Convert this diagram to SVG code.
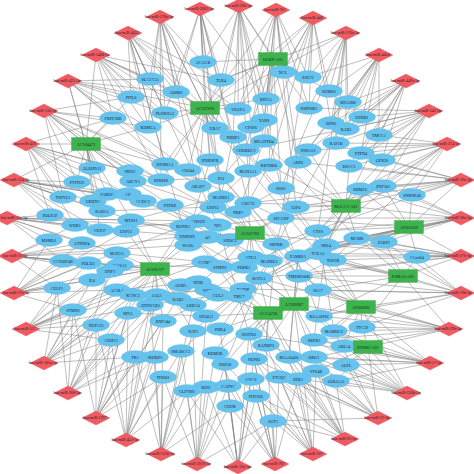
<svg xmlns="http://www.w3.org/2000/svg" width="474" height="474" viewBox="0 0 474 474">
<style>
.e{fill:none;stroke:#7e7e7e;stroke-width:0.6;stroke-opacity:0.85}
.m use{fill:#66c3ee;stroke:#59b6e2;stroke-width:0.3}
.g use{fill:#3cb44b;stroke:#2f9a3c;stroke-width:0.3}
.r use{fill:#f05b61;stroke:#e04a52;stroke-width:0.3}
text{font-family:"Liberation Serif","DejaVu Serif",serif;font-size:4.2px;fill:#1c2233;text-anchor:middle}
.r text{font-size:4.1px}
</style>
<defs>
<ellipse id="el" cx="0" cy="0" rx="13.5" ry="6.5"/>
<rect id="rc" x="-14.5" y="-6.5" width="29" height="13"/>
<polygon id="dm" points="-14,0 0,-7 14,0 0,7"/>
</defs>
<rect width="474" height="474" fill="#fff"/>
<g id="connectors">
<path class="e" d="M128 33L150 79M128 33L131 97M128 33L176 92M128 33L148 127M128 33L165 113M128 33L238 109M128 33L205 108M128 33L221 80M128 33L165 164M128 33L215 128M128 33L183 226M128 33L218 225"/>
<path class="e" d="M160 17L150 79M160 17L176 92M160 17L203 62M160 17L165 113M160 17L148 127M160 17L215 128M160 17L205 108M160 17L233 137M160 17L161 180M160 17L213 207M160 17L198 186"/>
<path class="e" d="M200 9L203 62M200 9L221 80M200 9L176 92M200 9L205 108M200 9L215 128M200 9L266 99M200 9L165 113M200 9L210 160M200 9L233 137M200 9L221 197M200 9L248 203"/>
<path class="e" d="M239 6L203 62M239 6L221 80M239 6L238 109M239 6L266 99M239 6L273 59M239 6L283 72M239 6L215 128M239 6L251 127M239 6L233 137M239 6L264 141M239 6L281 188M239 6L248 171"/>
<path class="e" d="M276 10L273 59M276 10L283 72M276 10L308 77M276 10L266 99M276 10L238 109M276 10L264 120M276 10L309 108M276 10L246 150M276 10L205 108M276 10L298 162M276 10L296 207"/>
<path class="e" d="M313 18L273 59M313 18L283 72M313 18L308 77M313 18L309 108M313 18L329 91M313 18L331 123M313 18L266 99M313 18L205 108M313 18L264 141M313 18L269 165M313 18L281 218"/>
<path class="e" d="M346 33L308 77M346 33L329 91M346 33L348 102M346 33L309 108M346 33L331 123M346 33L346 129M346 33L336 143M346 33L221 80M346 33L205 108M346 33L281 188M346 33L318 231"/>
<path class="e" d="M379 55L329 91M379 55L348 102M379 55L362 117M379 55L379 135M379 55L346 129M379 55L308 150M379 55L331 123M379 55L308 77M379 55L361 153M379 55L296 207M379 55L298 162"/>
<path class="e" d="M406 81L348 102M406 81L362 117M406 81L379 135M406 81L361 153M406 81L382 160M406 81L346 129M406 81L336 143M406 81L308 150M406 81L331 123M406 81L326 245M406 81L349 166"/>
<path class="e" d="M429 111L362 117M429 111L379 135M429 111L361 153M429 111L382 160M429 111L346 129M429 111L336 143M429 111L349 166M429 111L383 186M429 111L309 108M429 111L246 150M429 111L318 231M429 111L318 253"/>
<path class="e" d="M447 144L379 135M447 144L361 153M447 144L382 160M447 144L349 166M447 144L383 186M447 144L360 189M447 144L412 195M447 144L336 143M447 144L308 150M447 144L346 206M447 144L333 260M447 144L298 256"/>
<path class="e" d="M461 180L383 186M461 180L412 195M461 180L360 189M461 180L382 160M461 180L349 166M461 180L346 206M461 180L296 207M461 180L409 227M461 180L361 153M461 180L298 162M461 180L276 244M461 180L248 203"/>
<path class="e" d="M461 218L412 195M461 218L383 186M461 218L409 227M461 218L357 238M461 218L384 242M461 218L346 206M461 218L318 231M461 218L281 218M461 218L360 189M461 218L326 245M461 218L318 253M461 218L298 256M461 218L269 261"/>
<path class="e" d="M461 256L409 227M461 256L384 242M461 256L417 257M461 256L357 238M461 256L326 245M461 256L333 260M461 256L318 253M461 256L403 276M461 256L250 233M461 256L298 256M461 256L299 276M461 256L259 278"/>
<path class="e" d="M461 293L417 257M461 293L403 276M461 293L361 307M461 293L333 260M461 293L318 290M461 293L299 276M461 293L384 242M461 293L357 238M461 293L362 327M461 293L319 316M461 293L243 289"/>
<path class="e" d="M449 329L362 327M449 329L361 307M449 329L403 276M449 329L368 347M449 329L334 331M449 329L344 346M449 329L318 290M449 329L319 316M449 329L294 304M449 329L314 340M449 329L259 278"/>
<path class="e" d="M430 363L368 347M430 363L344 346M430 363L346 365M430 363L362 327M430 363L334 331M430 363L336 381M430 363L361 307M430 363L314 340M430 363L314 357M430 363L289 357M430 363L249 334"/>
<path class="e" d="M407 393L346 365M407 393L336 381M407 393L368 347M407 393L344 346M407 393L316 371M407 393L314 357M407 393L298 379M407 393L361 307M407 393L319 316M407 393L314 340M407 393L266 345"/>
<path class="e" d="M378 418L336 381M378 418L346 365M378 418L316 371M378 418L298 379M378 418L314 357M378 418L279 377M378 418L368 347M378 418L289 357M378 418L273 421M378 418L254 359M378 418L334 331"/>
<path class="e" d="M345 439L336 381M345 439L316 371M345 439L298 379M345 439L279 377M345 439L273 421M345 439L289 357M345 439L256 396M345 439L314 357M345 439L268 313M345 439L254 359M345 439L249 334M345 439L239 296"/>
<path class="e" d="M313 454L273 421M313 454L279 377M313 454L298 379M313 454L256 396M313 454L251 379M313 454L254 359M313 454L316 371M313 454L289 357M313 454L294 304M313 454L266 345M313 454L225 364"/>
<path class="e" d="M275 464L273 421M275 464L256 396M275 464L251 379M275 464L279 377M275 464L230 406M275 464L254 359M275 464L298 379M275 464L228 386M275 464L266 345M275 464L215 353M275 464L249 334"/>
<path class="e" d="M238 467L230 406M238 467L273 421M238 467L256 396M238 467L228 386M238 467L206 387M238 467L251 379M238 467L187 391M238 467L225 364M238 467L249 334M238 467L220 329M238 467L254 359"/>
<path class="e" d="M197 464L230 406M197 464L187 391M197 464L206 387M197 464L228 386M197 464L163 377M197 464L181 351M197 464L273 421M197 464L225 364M197 464L215 353M197 464L193 331M197 464L206 316"/>
<path class="e" d="M161 454L163 377M161 454L187 391M161 454L135 357M161 454L155 357M161 454L181 351M161 454L206 387M161 454L230 406M161 454L163 321M161 454L193 331M161 454L193 305M161 454L150 305"/>
<path class="e" d="M126 440L163 377M126 440L135 357M126 440L155 357M126 440L111 340M126 440L181 351M126 440L163 321M126 440L187 391M126 440L96 325M126 440L128 313M126 440L150 305M126 440L157 295"/>
<path class="e" d="M96 418L111 340M96 418L135 357M96 418L163 377M96 418L96 325M96 418L155 357M96 418L128 313M96 418L73 310M96 418L133 295M96 418L163 321M96 418L157 295M96 418L178 299"/>
<path class="e" d="M68 393L111 340M68 393L96 325M68 393L135 357M68 393L73 310M68 393L128 313M68 393L57 288M68 393L150 305M68 393L155 357M68 393L133 295M68 393L181 285M68 393L110 271"/>
<path class="e" d="M44 363L96 325M44 363L73 310M44 363L111 340M44 363L57 288M44 363L117 290M44 363L128 313M44 363L133 295M44 363L92 280M44 363L135 357M44 363L155 269M44 363L120 265"/>
<path class="e" d="M26 329L73 310M26 329L57 288M26 329L96 325M26 329L111 340M26 329L92 280M26 329L117 290M26 329L110 271M26 329L88 263M26 329L133 295M26 329L155 269M26 329L150 305M26 329L205 262"/>
<path class="e" d="M14 293L57 288M14 293L63 261M14 293L88 263M14 293L92 280M14 293L73 310M14 293L117 290M14 293L110 271M14 293L49 240M14 293L155 269M14 293L82 243M14 293L183 226M14 293L126 231"/>
<path class="e" d="M12 256L63 261M12 256L49 240M12 256L88 263M12 256L82 243M12 256L57 288M12 256L110 271M12 256L120 265M12 256L117 253M12 256L75 225M12 256L155 269M12 256L188 236M12 256L188 245"/>
<path class="e" d="M7 218L49 240M7 218L50 215M7 218L75 225M7 218L82 243M7 218L63 261M7 218L100 230M7 218L131 220M7 218L126 231M7 218L117 253M7 218L183 226M7 218L198 221"/>
<path class="e" d="M14 180L50 215M14 180L63 197M14 180L75 225M14 180L77 182M14 180L93 201M14 180L107 194M14 180L102 211M14 180L100 230M14 180L128 194M14 180L143 201M14 180L86 144M14 180L170 205M14 180L131 220"/>
<path class="e" d="M26 144L86 144M26 144L77 182M26 144L63 197M26 144L92 168M26 144L50 215M26 144L93 201M26 144L107 194M26 144L113 118M26 144L130 171M26 144L75 225M26 144L161 180M26 144L143 201"/>
<path class="e" d="M44 111L86 144M44 111L113 118M44 111L92 168M44 111L77 182M44 111L131 97M44 111L148 127M44 111L63 197M44 111L130 171M44 111L133 181M44 111L165 164M44 111L161 180M44 111L188 170"/>
<path class="e" d="M68 81L86 144M68 81L131 97M68 81L113 118M68 81L150 79M68 81L148 127M68 81L92 168M68 81L165 113M68 81L165 164M68 81L205 108M68 81L188 170M68 81L176 92"/>
<path class="e" d="M96 55L131 97M96 55L150 79M96 55L113 118M96 55L86 144M96 55L176 92M96 55L148 127M96 55L165 113M96 55L221 80M96 55L205 108M96 55L161 180M96 55L210 160M96 55L215 128"/>
<path class="e" d="M273 59L283 72M273 59L308 77M273 59L266 99M273 59L238 109M273 59L221 80M273 59L203 62M273 59L264 120M273 59L309 108M273 59L329 91M273 59L251 127M273 59L264 141M273 59L298 162M273 59L269 165M273 59L281 188"/>
<path class="e" d="M205 108L176 92M205 108L165 113M205 108L238 109M205 108L215 128M205 108L233 137M205 108L221 80M205 108L148 127M205 108L210 160M205 108L165 164M205 108L188 170M205 108L198 186M205 108L221 178M205 108L266 99M205 108L221 197M205 108L246 150M205 108L161 180"/>
<path class="e" d="M86 144L113 118M86 144L92 168M86 144L77 182M86 144L130 171M86 144L133 181M86 144L107 194M86 144L148 127M86 144L131 97M86 144L165 164M86 144L161 180M86 144L131 220M86 144L100 230M86 144L102 211M86 144L93 201"/>
<path class="e" d="M155 269L120 265M155 269L117 290M155 269L110 271M155 269L92 280M155 269L133 295M155 269L157 295M155 269L150 305M155 269L178 299M155 269L181 285M155 269L126 231M155 269L131 220M155 269L188 236M155 269L188 245M155 269L205 262M155 269L183 226M155 269L117 253M155 269L88 263M155 269L128 313M155 269L163 321M155 269L193 331"/>
<path class="e" d="M250 233L230 240M250 233L218 225M250 233L208 237M250 233L238 212M250 233L248 203M250 233L281 218M250 233L276 244M250 233L251 257M250 233L244 267M250 233L269 261M250 233L188 245M250 233L205 262M250 233L220 267M250 233L213 207M250 233L221 197M250 233L296 207M250 233L259 278M250 233L188 236"/>
<path class="e" d="M346 206L296 207M346 206L281 218M346 206L318 231M346 206L281 188M346 206L349 166M346 206L360 189M346 206L383 186M346 206L357 238M346 206L326 245M346 206L298 162M346 206L269 165M346 206L318 253M346 206L248 203M346 206L308 150"/>
<path class="e" d="M409 227L357 238M409 227L384 242M409 227L417 257M409 227L412 195M409 227L383 186M409 227L360 189M409 227L326 245M409 227L318 231M409 227L333 260M409 227L318 253M409 227L298 256M409 227L281 218"/>
<path class="e" d="M403 276L417 257M403 276L384 242M403 276L333 260M403 276L318 290M403 276L299 276M403 276L357 238M403 276L318 253M403 276L298 256M403 276L319 316M403 276L362 327"/>
<path class="e" d="M361 307L362 327M361 307L318 290M361 307L319 316M361 307L334 331M361 307L314 340M361 307L299 276M361 307L333 260M361 307L344 346M361 307L298 256M361 307L318 253"/>
<path class="e" d="M294 304L319 316M294 304L299 276M294 304L318 290M294 304L298 256M294 304L259 278M294 304L243 289M294 304L249 334M294 304L266 345M294 304L289 357M294 304L314 340M294 304L334 331M294 304L314 357M294 304L244 267M294 304L269 261"/>
<path class="e" d="M268 313L249 334M268 313L266 345M268 313L254 359M268 313L289 357M268 313L239 296M268 313L243 289M268 313L259 278M268 313L218 295M268 313L206 316M268 313L220 329M268 313L215 353M268 313L225 364"/>
<path class="e" d="M368 347L344 346M368 347L346 365M368 347L334 331M368 347L362 327M368 347L314 340M368 347L314 357M368 347L336 381M368 347L316 371"/>
<path class="e" d="M183 226L221 197M131 220L188 236M170 205L218 225M143 201L198 221M126 231L208 237M161 180L221 178M165 164L198 186M133 181L213 207M188 245L230 240M205 262L251 257M178 299L220 267M193 305L244 267M157 295L208 290M150 305L218 295M181 285L243 289M198 282L239 296M206 316L259 278M220 329L269 261M248 171L221 197M281 188L238 212M269 165L248 203M298 162L276 244M296 207L269 261M318 231L244 267M326 245L259 278M318 253L243 289M298 256L239 296M333 260L299 276M281 218L218 225M246 150L221 178M264 141L238 212M233 137L221 197M210 160L188 236M251 127L248 203"/>
<path class="e" d="M131 220L221 197M100 230L198 221M102 211L213 207M117 253L205 262M120 265L220 267M117 290L198 282M133 295L208 290M128 313L206 316M163 321L218 295M193 331L243 289M181 351L239 296M215 353L259 278M225 364L269 261M249 334L218 225M266 345L276 244M289 357L298 256M314 340L326 245M334 331L318 231M319 316L281 218M299 276L238 212M259 278L188 236M243 289L183 226M239 296L170 205M269 261L143 201M276 244L161 180M251 257L133 181M318 290L248 203M298 256L221 178M326 245L246 150M357 238L264 141M333 260L233 137M318 253L215 128M299 276L210 160M281 218L165 164M276 244L131 220"/>
</g>
<g id="n-ACACB" class="m"><use href="#el" x="203" y="62"/><text x="203" y="63.5">ACACB</text></g>
<g id="n-TLR4" class="m"><use href="#el" x="221" y="80"/><text x="221" y="81.5">TLR4</text></g>
<g id="n-SLC17A5" class="m"><use href="#el" x="150" y="79"/><text x="150" y="80.5">SLC17A5</text></g>
<g id="n-ADRB1" class="m"><use href="#el" x="176" y="92"/><text x="176" y="93.5">ADRB1</text></g>
<g id="n-PPIL6" class="m"><use href="#el" x="131" y="97"/><text x="131" y="98.5">PPIL6</text></g>
<g id="n-PLEKHA1" class="m"><use href="#el" x="165" y="113"/><text x="165" y="114.5">PLEKHA1</text></g>
<g id="n-VEGFA" class="m"><use href="#el" x="238" y="109"/><text x="238" y="110.5">VEGFA</text></g>
<g id="n-PRPF38B" class="m"><use href="#el" x="113" y="118"/><text x="113" y="119.5">PRPF38B</text></g>
<g id="n-KDM5A" class="m"><use href="#el" x="148" y="127"/><text x="148" y="128.5">KDM5A</text></g>
<g id="n-UBA7" class="m"><use href="#el" x="215" y="128"/><text x="215" y="129.5">UBA7</text></g>
<g id="n-NRBP1" class="m"><use href="#el" x="233" y="137"/><text x="233" y="138.5">NRBP1</text></g>
<g id="n-NCL" class="m"><use href="#el" x="283" y="72"/><text x="283" y="73.5">NCL</text></g>
<g id="n-SSU72" class="m"><use href="#el" x="308" y="77"/><text x="308" y="78.5">SSU72</text></g>
<g id="n-KIF2A" class="m"><use href="#el" x="266" y="99"/><text x="266" y="100.5">KIF2A</text></g>
<g id="n-SUMO1" class="m"><use href="#el" x="329" y="91"/><text x="329" y="92.5">SUMO1</text></g>
<g id="n-DNAJB6" class="m"><use href="#el" x="348" y="102"/><text x="348" y="103.5">DNAJB6</text></g>
<g id="n-HSP90B1" class="m"><use href="#el" x="309" y="108"/><text x="309" y="109.5">HSP90B1</text></g>
<g id="n-YARS" class="m"><use href="#el" x="264" y="120"/><text x="264" y="121.5">YARS</text></g>
<g id="n-CPSF6" class="m"><use href="#el" x="251" y="127"/><text x="251" y="128.5">CPSF6</text></g>
<g id="n-DPP6" class="m"><use href="#el" x="331" y="123"/><text x="331" y="124.5">DPP6</text></g>
<g id="n-RAB2" class="m"><use href="#el" x="346" y="129"/><text x="346" y="130.5">RAB2</text></g>
<g id="n-MSANTD4" class="m"><use href="#el" x="264" y="141"/><text x="264" y="142.5">MSANTD4</text></g>
<g id="n-RAP1B" class="m"><use href="#el" x="336" y="143"/><text x="336" y="144.5">RAP1B</text></g>
<g id="n-CHORDC1" class="m"><use href="#el" x="246" y="150"/><text x="246" y="151.5">CHORDC1</text></g>
<g id="n-HSPA13" class="m"><use href="#el" x="308" y="150"/><text x="308" y="151.5">HSPA13</text></g>
<g id="n-EPHB1" class="m"><use href="#el" x="362" y="117"/><text x="362" y="118.5">EPHB1</text></g>
<g id="n-TMCC1" class="m"><use href="#el" x="379" y="135"/><text x="379" y="136.5">TMCC1</text></g>
<g id="n-PTPN4" class="m"><use href="#el" x="361" y="153"/><text x="361" y="154.5">PTPN4</text></g>
<g id="n-GPR20" class="m"><use href="#el" x="382" y="160"/><text x="382" y="161.5">GPR20</text></g>
<g id="n-ALDH9A1" class="m"><use href="#el" x="92" y="168"/><text x="92" y="169.5">ALDH9A1</text></g>
<g id="n-PTPN23" class="m"><use href="#el" x="77" y="182"/><text x="77" y="183.5">PTPN23</text></g>
<g id="n-TSPYL2" class="m"><use href="#el" x="63" y="197"/><text x="63" y="198.5">TSPYL2</text></g>
<g id="n-FAM3C" class="m"><use href="#el" x="107" y="194"/><text x="107" y="195.5">FAM3C</text></g>
<g id="n-UBXN1" class="m"><use href="#el" x="93" y="201"/><text x="93" y="202.5">UBXN1</text></g>
<g id="n-RAB1A" class="m"><use href="#el" x="102" y="211"/><text x="102" y="212.5">RAB1A</text></g>
<g id="n-POLR3F" class="m"><use href="#el" x="50" y="215"/><text x="50" y="216.5">POLR3F</text></g>
<g id="n-WDR1" class="m"><use href="#el" x="75" y="225"/><text x="75" y="226.5">WDR1</text></g>
<g id="n-CEP57" class="m"><use href="#el" x="100" y="230"/><text x="100" y="231.5">CEP57</text></g>
<g id="n-MSMO1" class="m"><use href="#el" x="49" y="240"/><text x="49" y="241.5">MSMO1</text></g>
<g id="n-GTPBP4" class="m"><use href="#el" x="82" y="243"/><text x="82" y="244.5">GTPBP4</text></g>
<g id="n-MAT2A" class="m"><use href="#el" x="117" y="253"/><text x="117" y="254.5">MAT2A</text></g>
<g id="n-C17orf49" class="m"><use href="#el" x="63" y="261"/><text x="63" y="262.5">C17ORF49</text></g>
<g id="n-POLD3" class="m"><use href="#el" x="88" y="263"/><text x="88" y="264.5">POLD3</text></g>
<g id="n-RASA1" class="m"><use href="#el" x="120" y="265"/><text x="120" y="266.5">RASA1</text></g>
<g id="n-IL6" class="m"><use href="#el" x="92" y="280"/><text x="92" y="281.5">IL6</text></g>
<g id="n-HNF1" class="m"><use href="#el" x="110" y="271"/><text x="110" y="272.5">HNF1</text></g>
<g id="n-CELF1" class="m"><use href="#el" x="57" y="288"/><text x="57" y="289.5">CELF1</text></g>
<g id="n-ACSL1" class="m"><use href="#el" x="117" y="290"/><text x="117" y="291.5">ACSL1</text></g>
<g id="n-STMN2" class="m"><use href="#el" x="73" y="310"/><text x="73" y="311.5">STMN2</text></g>
<g id="n-HNRNPR" class="m"><use href="#el" x="210" y="160"/><text x="210" y="161.5">HNRNPR</text></g>
<g id="n-DYRK1A" class="m"><use href="#el" x="165" y="164"/><text x="165" y="165.5">DYRK1A</text></g>
<g id="n-CD244" class="m"><use href="#el" x="188" y="170"/><text x="188" y="171.5">CD244</text></g>
<g id="n-PKN2" class="m"><use href="#el" x="130" y="171"/><text x="130" y="172.5">PKN2</text></g>
<g id="n-ADCY1" class="m"><use href="#el" x="133" y="181"/><text x="133" y="182.5">ADCY1</text></g>
<g id="n-RTBDN" class="m"><use href="#el" x="161" y="180"/><text x="161" y="181.5">RTBDN</text></g>
<g id="n-PLI" class="m"><use href="#el" x="221" y="178"/><text x="221" y="179.5">PLI</text></g>
<g id="n-AKAP7" class="m"><use href="#el" x="198" y="186"/><text x="198" y="187.5">AKAP7</text></g>
<g id="n-CP" class="m"><use href="#el" x="128" y="194"/><text x="128" y="195.5">CP</text></g>
<g id="n-CCDC3" class="m"><use href="#el" x="143" y="201"/><text x="143" y="202.5">CCDC3</text></g>
<g id="n-MAPRE1" class="m"><use href="#el" x="221" y="197"/><text x="221" y="198.5">MAPRE1</text></g>
<g id="n-PTPRE" class="m"><use href="#el" x="170" y="205"/><text x="170" y="206.5">PTPRE</text></g>
<g id="n-USP15" class="m"><use href="#el" x="213" y="207"/><text x="213" y="208.5">USP15</text></g>
<g id="n-MTSS1" class="m"><use href="#el" x="131" y="220"/><text x="131" y="221.5">MTSS1</text></g>
<g id="n-USP13" class="m"><use href="#el" x="126" y="231"/><text x="126" y="232.5">USP13</text></g>
<g id="n-CDSUP" class="m"><use href="#el" x="198" y="221"/><text x="198" y="222.5">CDSUP</text></g>
<g id="n-RUNX1" class="m"><use href="#el" x="183" y="226"/><text x="183" y="227.5">RUNX1</text></g>
<g id="n-NF1" class="m"><use href="#el" x="218" y="225"/><text x="218" y="226.5">NF1</text></g>
<g id="n-HNRNPD" class="m"><use href="#el" x="188" y="236"/><text x="188" y="237.5">HNRNPD</text></g>
<g id="n-4C" class="m"><use href="#el" x="208" y="237"/><text x="208" y="238.5">4C</text></g>
<g id="n-WASL" class="m"><use href="#el" x="188" y="245"/><text x="188" y="246.5">WASL</text></g>
<g id="n-SHOC2" class="m"><use href="#el" x="230" y="240"/><text x="230" y="241.5">SHOC2</text></g>
<g id="n-CCNE2" class="m"><use href="#el" x="205" y="262"/><text x="205" y="263.5">CCNE2</text></g>
<g id="n-STMN1" class="m"><use href="#el" x="220" y="267"/><text x="220" y="268.5">STMN1</text></g>
<g id="n-AEBP1" class="m"><use href="#el" x="181" y="285"/><text x="181" y="286.5">AEBP1</text></g>
<g id="n-NFIB" class="m"><use href="#el" x="198" y="282"/><text x="198" y="283.5">NFIB</text></g>
<g id="n-VEZT" class="m"><use href="#el" x="208" y="290"/><text x="208" y="291.5">VEZT</text></g>
<g id="n-CUL2" class="m"><use href="#el" x="218" y="295"/><text x="218" y="296.5">CUL2</text></g>
<g id="n-KCNC2" class="m"><use href="#el" x="133" y="295"/><text x="133" y="296.5">KCNC2</text></g>
<g id="n-JAG1" class="m"><use href="#el" x="157" y="295"/><text x="157" y="296.5">JAG1</text></g>
<g id="n-DAB2" class="m"><use href="#el" x="178" y="299"/><text x="178" y="300.5">DAB2</text></g>
<g id="n-LRRC4" class="m"><use href="#el" x="193" y="305"/><text x="193" y="306.5">LRRC4</text></g>
<g id="n-ATP6V1B2" class="m"><use href="#el" x="150" y="305"/><text x="150" y="306.5">ATP6V1B2</text></g>
<g id="n-RPIA" class="m"><use href="#el" x="128" y="313"/><text x="128" y="314.5">RPIA</text></g>
<g id="n-EIF4G3" class="m"><use href="#el" x="206" y="316"/><text x="206" y="317.5">EIF4G3</text></g>
<g id="n-KBTBD6" class="m"><use href="#el" x="269" y="165"/><text x="269" y="166.5">KBTBD6</text></g>
<g id="n-ARF6" class="m"><use href="#el" x="298" y="162"/><text x="298" y="163.5">ARF6</text></g>
<g id="n-MAN1A1" class="m"><use href="#el" x="248" y="171"/><text x="248" y="172.5">MAN1A1</text></g>
<g id="n-DSCC1" class="m"><use href="#el" x="349" y="166"/><text x="349" y="167.5">DSCC1</text></g>
<g id="n-SOS1" class="m"><use href="#el" x="281" y="188"/><text x="281" y="189.5">SOS1</text></g>
<g id="n-CDC73" class="m"><use href="#el" x="248" y="203"/><text x="248" y="204.5">CDC73</text></g>
<g id="n-NRP1" class="m"><use href="#el" x="238" y="212"/><text x="238" y="213.5">NRP1</text></g>
<g id="n-E2F6" class="m"><use href="#el" x="296" y="207"/><text x="296" y="208.5">E2F6</text></g>
<g id="n-SEC23IP" class="m"><use href="#el" x="281" y="218"/><text x="281" y="219.5">SEC23IP</text></g>
<g id="n-CTSS" class="m"><use href="#el" x="318" y="231"/><text x="318" y="232.5">CTSS</text></g>
<g id="n-MCM8" class="m"><use href="#el" x="357" y="238"/><text x="357" y="239.5">MCM8</text></g>
<g id="n-SKE4" class="m"><use href="#el" x="326" y="245"/><text x="326" y="246.5">SKE4</text></g>
<g id="n-SRPRB" class="m"><use href="#el" x="276" y="244"/><text x="276" y="245.5">SRPRB</text></g>
<g id="n-TCEA1" class="m"><use href="#el" x="318" y="253"/><text x="318" y="254.5">TCEA1</text></g>
<g id="n-FAM89A" class="m"><use href="#el" x="298" y="256"/><text x="298" y="257.5">FAM89A</text></g>
<g id="n-TOP2B" class="m"><use href="#el" x="333" y="260"/><text x="333" y="261.5">TOP2B</text></g>
<g id="n-CTU1" class="m"><use href="#el" x="251" y="257"/><text x="251" y="258.5">CTU1</text></g>
<g id="n-MAPRE2" class="m"><use href="#el" x="269" y="261"/><text x="269" y="262.5">MAPRE2</text></g>
<g id="n-PDPK1" class="m"><use href="#el" x="244" y="267"/><text x="244" y="268.5">PDPK1</text></g>
<g id="n-DCP1A" class="m"><use href="#el" x="259" y="278"/><text x="259" y="279.5">DCP1A</text></g>
<g id="n-TMEM106B" class="m"><use href="#el" x="299" y="276"/><text x="299" y="277.5">TMEM106B</text></g>
<g id="n-TAPBP" class="m"><use href="#el" x="243" y="289"/><text x="243" y="290.5">TAPBP</text></g>
<g id="n-SLC7" class="m"><use href="#el" x="318" y="290"/><text x="318" y="291.5">SLC7</text></g>
<g id="n-TMC7" class="m"><use href="#el" x="239" y="296"/><text x="239" y="297.5">TMC7</text></g>
<g id="n-KIAA0930" class="m"><use href="#el" x="319" y="316"/><text x="319" y="317.5">KIAA0930</text></g>
<g id="n-ZNF561" class="m"><use href="#el" x="383" y="186"/><text x="383" y="187.5">ZNF561</text></g>
<g id="n-RBM20" class="m"><use href="#el" x="360" y="189"/><text x="360" y="190.5">RBM20</text></g>
<g id="n-SNRNP40" class="m"><use href="#el" x="412" y="195"/><text x="412" y="196.5">SNRNP40</text></g>
<g id="n-PARP1" class="m"><use href="#el" x="384" y="242"/><text x="384" y="243.5">PARP1</text></g>
<g id="n-C1orf64" class="m"><use href="#el" x="417" y="257"/><text x="417" y="258.5">C1orf64</text></g>
<g id="n-TTC39" class="m"><use href="#el" x="362" y="327"/><text x="362" y="328.5">TTC39</text></g>
<g id="n-NUP153" class="m"><use href="#el" x="96" y="325"/><text x="96" y="326.5">NUP153</text></g>
<g id="n-CDH13" class="m"><use href="#el" x="111" y="340"/><text x="111" y="341.5">CDH13</text></g>
<g id="n-RNF144" class="m"><use href="#el" x="163" y="321"/><text x="163" y="322.5">RNF144</text></g>
<g id="n-NAT1" class="m"><use href="#el" x="193" y="331"/><text x="193" y="332.5">NAT1</text></g>
<g id="n-PDK4" class="m"><use href="#el" x="220" y="329"/><text x="220" y="330.5">PDK4</text></g>
<g id="n-SMARCC1" class="m"><use href="#el" x="181" y="351"/><text x="181" y="352.5">SMARCC1</text></g>
<g id="n-TK1" class="m"><use href="#el" x="135" y="357"/><text x="135" y="358.5">TK1</text></g>
<g id="n-SH3BP5" class="m"><use href="#el" x="155" y="357"/><text x="155" y="358.5">SH3BP5</text></g>
<g id="n-KDM3B" class="m"><use href="#el" x="215" y="353"/><text x="215" y="354.5">KDM3B</text></g>
<g id="n-HSPA8" class="m"><use href="#el" x="225" y="364"/><text x="225" y="365.5">HSPA8</text></g>
<g id="n-THSD1" class="m"><use href="#el" x="163" y="377"/><text x="163" y="378.5">THSD1</text></g>
<g id="n-CLPTM1" class="m"><use href="#el" x="187" y="391"/><text x="187" y="392.5">CLPTM1</text></g>
<g id="n-IDH1" class="m"><use href="#el" x="206" y="387"/><text x="206" y="388.5">IDH1</text></g>
<g id="n-CAPN7" class="m"><use href="#el" x="228" y="386"/><text x="228" y="387.5">CAPN7</text></g>
<g id="n-CHUK" class="m"><use href="#el" x="230" y="406"/><text x="230" y="407.5">CHUK</text></g>
<g id="n-SESTD1" class="m"><use href="#el" x="249" y="334"/><text x="249" y="335.5">SESTD1</text></g>
<g id="n-MAMDC2" class="m"><use href="#el" x="334" y="331"/><text x="334" y="332.5">MAMDC2</text></g>
<g id="n-SRPK2" class="m"><use href="#el" x="314" y="340"/><text x="314" y="341.5">SRPK2</text></g>
<g id="n-RANBP3" class="m"><use href="#el" x="266" y="345"/><text x="266" y="346.5">RANBP3</text></g>
<g id="n-ARL14" class="m"><use href="#el" x="344" y="346"/><text x="344" y="347.5">ARL14</text></g>
<g id="n-NONO" class="m"><use href="#el" x="254" y="359"/><text x="254" y="360.5">NONO</text></g>
<g id="n-KIAA0430" class="m"><use href="#el" x="289" y="357"/><text x="289" y="358.5">KIAA0430</text></g>
<g id="n-DRG1" class="m"><use href="#el" x="314" y="357"/><text x="314" y="358.5">DRG1</text></g>
<g id="n-ALPL" class="m"><use href="#el" x="346" y="365"/><text x="346" y="366.5">ALPL</text></g>
<g id="n-VPS4B" class="m"><use href="#el" x="316" y="371"/><text x="316" y="372.5">VPS4B</text></g>
<g id="n-CYCS" class="m"><use href="#el" x="251" y="379"/><text x="251" y="380.5">CYCS</text></g>
<g id="n-PTCD3" class="m"><use href="#el" x="279" y="377"/><text x="279" y="378.5">PTCD3</text></g>
<g id="n-ZEB1" class="m"><use href="#el" x="298" y="379"/><text x="298" y="380.5">ZEB1</text></g>
<g id="n-GOLGA5" class="m"><use href="#el" x="336" y="381"/><text x="336" y="382.5">GOLGA5</text></g>
<g id="n-PHF20L" class="m"><use href="#el" x="256" y="396"/><text x="256" y="397.5">PHF20L</text></g>
<g id="n-SGT1" class="m"><use href="#el" x="273" y="421"/><text x="273" y="422.5">SGT1</text></g>
<g id="n-DGKP-AS1" class="g"><use href="#rc" x="273" y="59"/><text x="273" y="60.5">DGKP-AS1</text></g>
<g id="n-AC107070" class="g"><use href="#rc" x="205" y="108"/><text x="205" y="109.5">AC107070</text></g>
<g id="n-AC104473" class="g"><use href="#rc" x="86" y="144"/><text x="86" y="145.5">AC104473</text></g>
<g id="n-AC092127" class="g"><use href="#rc" x="155" y="269"/><text x="155" y="270.5">AC092127</text></g>
<g id="n-AC022762" class="g"><use href="#rc" x="250" y="233"/><text x="250" y="234.5">AC022762</text></g>
<g id="n-MACC1-AS1" class="g"><use href="#rc" x="346" y="206"/><text x="346" y="207.5">MACC1-AS1</text></g>
<g id="n-AP001029" class="g"><use href="#rc" x="409" y="227"/><text x="409" y="228.5">AP001029</text></g>
<g id="n-PSMA3-AS1" class="g"><use href="#rc" x="403" y="276"/><text x="403" y="277.5">PSMA3-AS1</text></g>
<g id="n-AP000695" class="g"><use href="#rc" x="361" y="307"/><text x="361" y="308.5">AP000695</text></g>
<g id="n-AC090967" class="g"><use href="#rc" x="294" y="304"/><text x="294" y="305.5">AC090967</text></g>
<g id="n-AC114730" class="g"><use href="#rc" x="268" y="313"/><text x="268" y="314.5">AC114730</text></g>
<g id="n-ZFPM2-AS1" class="g"><use href="#rc" x="368" y="347"/><text x="368" y="348.5">ZFPM2-AS1</text></g>
<g id="n-miR-4433" class="r"><use href="#dm" x="128" y="33"/><text x="127" y="34.4">hsa-miR-4433</text></g>
<g id="n-miR-378a" class="r"><use href="#dm" x="160" y="17"/><text x="159" y="18.4">hsa-miR-378a-5p</text></g>
<g id="n-miR-2682" class="r"><use href="#dm" x="200" y="9"/><text x="199" y="10.4">hsa-miR-2682-5p</text></g>
<g id="n-miR-296" class="r"><use href="#dm" x="239" y="6"/><text x="238" y="7.4">hsa-miR-296-5p</text></g>
<g id="n-miR-761" class="r"><use href="#dm" x="276" y="10"/><text x="275" y="11.4">hsa-miR-761</text></g>
<g id="n-miR-449" class="r"><use href="#dm" x="313" y="18"/><text x="312" y="19.4">hsa-miR-449</text></g>
<g id="n-miR-376a" class="r"><use href="#dm" x="346" y="33"/><text x="345" y="34.4">hsa-miR-376a-3p</text></g>
<g id="n-miR-4458" class="r"><use href="#dm" x="379" y="55"/><text x="378" y="56.4">hsa-miR-4458</text></g>
<g id="n-miR-449a" class="r"><use href="#dm" x="406" y="81"/><text x="405" y="82.4">hsa-miR-449a-5p</text></g>
<g id="n-miR-142" class="r"><use href="#dm" x="429" y="111"/><text x="428" y="112.4">hsa-miR-142-3p</text></g>
<g id="n-miR-374" class="r"><use href="#dm" x="447" y="144"/><text x="446" y="145.4">hsa-miR-374-3p</text></g>
<g id="n-miR-19a" class="r"><use href="#dm" x="461" y="180"/><text x="458" y="181.4">hsa-miR-19a-3p</text></g>
<g id="n-miR-20a" class="r"><use href="#dm" x="461" y="218"/><text x="458" y="219.4">hsa-miR-20a-5p</text></g>
<g id="n-miR-27b" class="r"><use href="#dm" x="461" y="256"/><text x="458" y="257.4">hsa-miR-27b-3p</text></g>
<g id="n-miR-19b" class="r"><use href="#dm" x="461" y="293"/><text x="458" y="294.4">hsa-miR-19b-3p</text></g>
<g id="n-miR-29b" class="r"><use href="#dm" x="449" y="329"/><text x="448" y="330.4">hsa-miR-29b-3p</text></g>
<g id="n-miR-17" class="r"><use href="#dm" x="430" y="363"/><text x="429" y="364.4">hsa-miR-17-5p</text></g>
<g id="n-miR-130b" class="r"><use href="#dm" x="407" y="393"/><text x="406" y="394.4">hsa-miR-130b-3p</text></g>
<g id="n-miR-22" class="r"><use href="#dm" x="378" y="418"/><text x="377" y="419.4">hsa-miR-22-3p</text></g>
<g id="n-miR-93" class="r"><use href="#dm" x="345" y="439"/><text x="344" y="440.4">hsa-miR-93-5p</text></g>
<g id="n-miR-107" class="r"><use href="#dm" x="313" y="454"/><text x="312" y="455.4">hsa-miR-107</text></g>
<g id="n-miR-767" class="r"><use href="#dm" x="275" y="464"/><text x="274" y="465.4">hsa-miR-767</text></g>
<g id="n-miR-33a" class="r"><use href="#dm" x="238" y="467"/><text x="237" y="468.4">hsa-miR-33a-5p</text></g>
<g id="n-miR-3929" class="r"><use href="#dm" x="197" y="464"/><text x="196" y="465.4">hsa-miR-3929-3p</text></g>
<g id="n-miR-1236" class="r"><use href="#dm" x="161" y="454"/><text x="160" y="455.4">hsa-miR-1236-3p</text></g>
<g id="n-miR-452" class="r"><use href="#dm" x="126" y="440"/><text x="125" y="441.4">hsa-miR-452-5p</text></g>
<g id="n-miR-1297" class="r"><use href="#dm" x="96" y="418"/><text x="95" y="419.4">hsa-miR-1297</text></g>
<g id="n-miR-300" class="r"><use href="#dm" x="68" y="393"/><text x="67" y="394.4">hsa-miR-300-3p</text></g>
<g id="n-miR-181a" class="r"><use href="#dm" x="44" y="363"/><text x="43" y="364.4">hsa-miR-181a-5p</text></g>
<g id="n-miR-557" class="r"><use href="#dm" x="26" y="329"/><text x="25" y="330.4">hsa-miR-557</text></g>
<g id="n-miR-27a" class="r"><use href="#dm" x="14" y="293"/><text x="16" y="294.4">hsa-miR-27a-3p</text></g>
<g id="n-miR-21" class="r"><use href="#dm" x="12" y="256"/><text x="15" y="257.4">hsa-miR-21-5p</text></g>
<g id="n-miR-15a" class="r"><use href="#dm" x="7" y="218"/><text x="14" y="219.4">hsa-miR-15a-5p</text></g>
<g id="n-miR-124" class="r"><use href="#dm" x="14" y="180"/><text x="16" y="181.4">hsa-miR-124-3p</text></g>
<g id="n-miR-429" class="r"><use href="#dm" x="26" y="144"/><text x="25" y="145.4">hsa-miR-429</text></g>
<g id="n-miR-136" class="r"><use href="#dm" x="44" y="111"/><text x="43" y="112.4">hsa-miR-136-5p</text></g>
<g id="n-miR-425" class="r"><use href="#dm" x="68" y="81"/><text x="67" y="82.4">hsa-miR-425-5p</text></g>
<g id="n-miR-1468" class="r"><use href="#dm" x="96" y="55"/><text x="95" y="56.4">hsa-miR-1468-5p</text></g>
</svg>
